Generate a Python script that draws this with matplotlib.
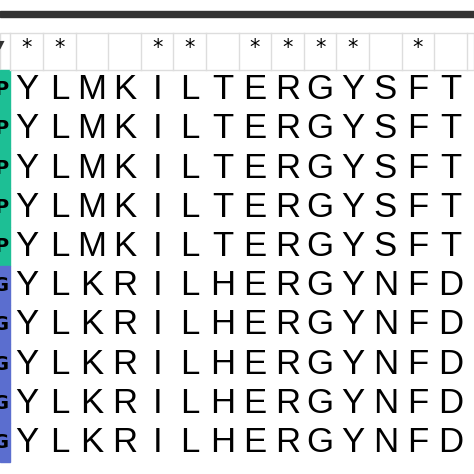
import matplotlib
matplotlib.use("Agg")
import matplotlib.pyplot as plt
from matplotlib.patches import Rectangle

# alignment data
seq_a = list("YLMKILTERGYSFT")
seq_b = list("YLKRILHERGYNFD")
rows = [seq_a] * 5 + [seq_b] * 5
row_tags = ["P"] * 5 + ["G"] * 5
tag_colors = {"P": "#1dbf95", "G": "#5b6ecf"}
conserved = [1, 1, 0, 0, 1, 1, 0, 1, 1, 1, 1, 0, 1, 0]

fig = plt.figure(figsize=(4.74, 4.74), dpi=100)
ax = fig.add_axes([0, 0, 1, 1])
ax.set_xlim(0, 474)
ax.set_ylim(474, 0)
ax.axis("off")

x0, cw = 10.5, 32.6
y_head, row0, rh = 33, 70, 39.2

# dark top bar
ax.add_patch(Rectangle((0, 11), 474, 6, color="#333333"))
ax.add_patch(Rectangle((0, y_head), 474, row0 - y_head, facecolor="white",
                       edgecolor="#dddddd", lw=1))
for j in range(15):
    ax.plot([x0 + j * cw] * 2, [y_head, row0], color="#dddddd", lw=1)
for j, c in enumerate(conserved):
    if c:
        ax.text(x0 + (j + 0.5) * cw, 48, "*", ha="center", va="center", fontsize=15)
ax.text(0, 45, "\u25bc", ha="center", va="center", fontsize=8, color="#333333")

for i, (seq, tag) in enumerate(zip(rows, row_tags)):
    yc = row0 + (i + 0.5) * rh
    ax.add_patch(Rectangle((0, row0 + i * rh), 10, rh, color=tag_colors[tag]))
    ax.text(1, yc, tag, ha="center", va="center", fontsize=14, fontweight="bold")
    for j, ch in enumerate(seq):
        ax.text(x0 + (j + 0.5) * cw, yc, ch, ha="center", va="center",
                fontsize=25, family="Liberation Sans")

fig.savefig("out.png", dpi=100)
